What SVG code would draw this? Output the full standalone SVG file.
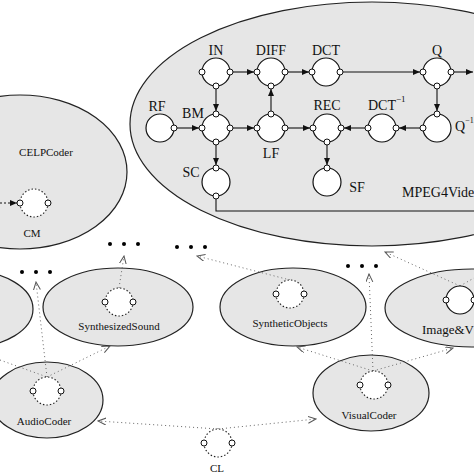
<svg xmlns="http://www.w3.org/2000/svg" width="474" height="474" viewBox="0 0 474 474">
<style>
.ell{fill:#e6e6e6;stroke:#222;stroke-width:1.2}
.nd{fill:#fff;stroke:#111;stroke-width:1.2}
.dn{fill:#fff;stroke:#222;stroke-width:1.1;stroke-dasharray:1.5 2}
.pt{fill:#fff;stroke:#111;stroke-width:1}
.dot{fill:#000}
.lb{font-family:"Liberation Serif",serif;font-size:14px;fill:#111}
.sm{font-family:"Liberation Serif",serif;font-size:11px;fill:#111}
.ln{stroke:#111;stroke-width:1.1;fill:none}
.dl{stroke:#666;stroke-width:1;stroke-dasharray:1 3;fill:none}
</style>
<defs>
<marker id="fa" markerUnits="userSpaceOnUse" markerWidth="8" markerHeight="6" refX="7" refY="3" orient="auto"><path d="M0,0 L7,3 L0,6 z" fill="#111"/></marker>
<marker id="oa" markerUnits="userSpaceOnUse" markerWidth="9" markerHeight="8" refX="8" refY="3.5" orient="auto"><path d="M0,0 L8,3.5 L0,7" fill="none" stroke="#555" stroke-width="1"/></marker>
</defs>
<rect width="474" height="474" fill="#fff"/>

<!-- containers -->
<g id="MPEG4Video">
<ellipse class="ell" cx="372" cy="124" rx="242" ry="122"/>
<text class="lb" x="402" y="197">MPEG4Vide</text>
</g>
<g id="CELPCoder">
<ellipse class="ell" cx="20" cy="172" rx="107" ry="77"/>
<text class="sm" x="46" y="156" text-anchor="middle">CELPCoder</text>
</g>
<g id="LeftNode"><ellipse class="ell" cx="-30" cy="309" rx="63" ry="38"/></g>
<g id="SynthesizedSound">
<ellipse class="ell" cx="118" cy="307" rx="75" ry="39"/>
<text class="sm" x="119" y="330" text-anchor="middle">SynthesizedSound</text>
</g>
<g id="SyntheticObjects">
<ellipse class="ell" cx="293" cy="307" rx="73" ry="39"/>
<text class="sm" x="290" y="327" text-anchor="middle">SyntheticObjects</text>
</g>
<g id="ImageVideo">
<ellipse class="ell" cx="472" cy="308" rx="87" ry="39"/>
<text class="lb" x="422" y="334" style="font-size:13px">Image&amp;V</text>
</g>
<g id="AudioCoder">
<ellipse class="ell" cx="47" cy="400" rx="56" ry="38"/>
<text class="sm" x="44" y="425" text-anchor="middle">AudioCoder</text>
</g>
<g id="VisualCoder">
<ellipse class="ell" cx="371" cy="393" rx="58" ry="38"/>
<text class="sm" x="369" y="419" text-anchor="middle">VisualCoder</text>
</g>

<!-- connectors -->
<g id="connectors">
<line class="ln" x1="233" y1="72" x2="254" y2="72" marker-end="url(#fa)"/>
<line class="ln" x1="288" y1="72" x2="309" y2="72" marker-end="url(#fa)"/>
<line class="ln" x1="343" y1="72" x2="420" y2="72" marker-end="url(#fa)"/>
<line class="ln" x1="454" y1="72" x2="473" y2="72" marker-end="url(#fa)"/>
<line class="ln" x1="216" y1="89" x2="216" y2="111" marker-end="url(#fa)"/>
<line class="ln" x1="271" y1="111" x2="271" y2="89" marker-end="url(#fa)"/>
<line class="ln" x1="437" y1="89" x2="437" y2="111" marker-end="url(#fa)"/>
<line class="ln" x1="177" y1="128" x2="199" y2="128" marker-end="url(#fa)"/>
<line class="ln" x1="233" y1="128" x2="254" y2="128" marker-end="url(#fa)"/>
<line class="ln" x1="288" y1="128" x2="310" y2="128" marker-end="url(#fa)"/>
<line class="ln" x1="365" y1="128" x2="344" y2="128" marker-end="url(#fa)"/>
<line class="ln" x1="420" y1="128" x2="399" y2="128" marker-end="url(#fa)"/>
<line class="ln" x1="216" y1="145" x2="216" y2="165" marker-end="url(#fa)"/>
<line class="ln" x1="327" y1="145" x2="327" y2="165" marker-end="url(#fa)"/>
<polyline class="ln" points="216,199 216,211 474,211"/>
<line class="ln" x1="0" y1="203" x2="17" y2="203" stroke-dasharray="2 2" marker-end="url(#fa)"/>

<line class="dl" x1="47" y1="377" x2="36" y2="282" marker-end="url(#oa)"/>
<line class="dl" x1="0" y1="360" x2="47" y2="377"/>
<line class="dl" x1="47" y1="377" x2="110" y2="346" marker-end="url(#oa)"/>
<line class="dl" x1="119" y1="288" x2="124" y2="256" marker-end="url(#oa)"/>
<line class="dl" x1="290" y1="280" x2="197" y2="256" marker-end="url(#oa)"/>
<line class="dl" x1="373" y1="371" x2="297" y2="347" marker-end="url(#oa)"/>
<line class="dl" x1="373" y1="371" x2="369" y2="274" marker-end="url(#oa)"/>
<line class="dl" x1="373" y1="371" x2="453" y2="348" marker-end="url(#oa)"/>
<line class="dl" x1="460" y1="286" x2="385" y2="252" marker-end="url(#oa)"/>
<line class="dl" x1="460" y1="286" x2="474" y2="278"/>
<line class="dl" x1="218" y1="429" x2="98" y2="421" marker-end="url(#oa)"/>
<line class="dl" x1="218" y1="429" x2="316" y2="419" marker-end="url(#oa)"/>
</g>

<!-- MPEG4 internal nodes -->
<g id="IN"><circle class="nd" cx="216" cy="72" r="14"/><circle class="pt" cx="202" cy="72" r="3"/><circle class="pt" cx="230" cy="72" r="3"/><circle class="pt" cx="216" cy="86" r="3"/><text class="lb" x="216" y="55" text-anchor="middle">IN</text></g>
<g id="DIFF"><circle class="nd" cx="271" cy="72" r="14"/><circle class="pt" cx="257" cy="72" r="3"/><circle class="pt" cx="285" cy="72" r="3"/><circle class="pt" cx="271" cy="86" r="3"/><text class="lb" x="271" y="55" text-anchor="middle">DIFF</text></g>
<g id="DCT"><circle class="nd" cx="326" cy="72" r="14"/><circle class="pt" cx="312" cy="72" r="3"/><circle class="pt" cx="340" cy="72" r="3"/><text class="lb" x="326" y="55" text-anchor="middle">DCT</text></g>
<g id="Q"><circle class="nd" cx="437" cy="72" r="14"/><circle class="pt" cx="423" cy="72" r="3"/><circle class="pt" cx="451" cy="72" r="3"/><circle class="pt" cx="437" cy="86" r="3"/><text class="lb" x="437" y="55" text-anchor="middle">Q</text></g>
<g id="RF"><circle class="nd" cx="160" cy="128" r="14"/><circle class="pt" cx="174" cy="128" r="3"/><text class="lb" x="157" y="111" text-anchor="middle">RF</text></g>
<g id="BM"><circle class="nd" cx="216" cy="128" r="14"/><circle class="pt" cx="216" cy="114" r="3"/><circle class="pt" cx="202" cy="128" r="3"/><circle class="pt" cx="230" cy="128" r="3"/><circle class="pt" cx="216" cy="142" r="3"/><text class="lb" x="193" y="118" text-anchor="middle">BM</text></g>
<g id="LF"><circle class="nd" cx="271" cy="128" r="14"/><circle class="pt" cx="271" cy="114" r="3"/><circle class="pt" cx="257" cy="128" r="3"/><circle class="pt" cx="285" cy="128" r="3"/><text class="lb" x="271" y="158" text-anchor="middle">LF</text></g>
<g id="REC"><circle class="nd" cx="327" cy="128" r="14"/><circle class="pt" cx="313" cy="128" r="3"/><circle class="pt" cx="341" cy="128" r="3"/><circle class="pt" cx="327" cy="142" r="3"/><text class="lb" x="327" y="110" text-anchor="middle">REC</text></g>
<g id="DCTinv"><circle class="nd" cx="382" cy="128" r="14"/><circle class="pt" cx="368" cy="128" r="3"/><circle class="pt" cx="396" cy="128" r="3"/><text class="lb" x="368" y="110">DCT<tspan dy="-8" style="font-size:9px">−1</tspan></text></g>
<g id="Qinv"><circle class="nd" cx="437" cy="128" r="14"/><circle class="pt" cx="437" cy="114" r="3"/><circle class="pt" cx="423" cy="128" r="3"/><text class="lb" x="455" y="131">Q<tspan dy="-8" style="font-size:8px">−1</tspan></text></g>
<g id="SC"><circle class="nd" cx="216" cy="182" r="14"/><circle class="pt" cx="216" cy="168" r="3"/><circle class="pt" cx="216" cy="196" r="3"/><text class="lb" x="191" y="177" text-anchor="middle">SC</text></g>
<g id="SF"><circle class="nd" cx="327" cy="182" r="14"/><circle class="pt" cx="327" cy="168" r="3"/><text class="lb" x="357" y="192" text-anchor="middle">SF</text></g>

<!-- lower nodes -->
<g id="CM"><circle class="dn" cx="34" cy="203" r="14"/><circle class="pt" cx="20" cy="203" r="3"/><circle class="pt" cx="48" cy="203" r="3"/><text class="sm" x="32" y="237" text-anchor="middle">CM</text></g>
<g id="SSnode"><circle class="dn" cx="119" cy="302" r="14"/><circle class="pt" cx="105" cy="302" r="3"/><circle class="pt" cx="133" cy="302" r="3"/></g>
<g id="SOnode"><circle class="dn" cx="290" cy="294" r="14"/><circle class="pt" cx="276" cy="294" r="3"/><circle class="pt" cx="304" cy="294" r="3"/></g>
<g id="IVnode"><circle class="nd" cx="460" cy="300" r="14"/><circle class="pt" cx="446" cy="300" r="3"/><circle class="pt" cx="474" cy="300" r="3"/></g>
<g id="ACnode"><circle class="dn" cx="47" cy="391" r="14"/><circle class="pt" cx="33" cy="391" r="3"/><circle class="pt" cx="61" cy="391" r="3"/></g>
<g id="VCnode"><circle class="dn" cx="374" cy="385" r="14"/><circle class="pt" cx="360" cy="385" r="3"/><circle class="pt" cx="388" cy="385" r="3"/></g>
<g id="CL"><circle class="dn" cx="218" cy="443" r="14"/><circle class="pt" cx="204" cy="443" r="3"/><circle class="pt" cx="232" cy="443" r="3"/><text class="sm" x="217" y="472" text-anchor="middle">CL</text></g>

<g id="dots">
<circle class="dot" cx="110" cy="244" r="2"/><circle class="dot" cx="124" cy="244" r="2"/><circle class="dot" cx="138" cy="244" r="2"/>
<circle class="dot" cx="177" cy="247" r="2"/><circle class="dot" cx="191" cy="247" r="2"/><circle class="dot" cx="205" cy="247" r="2"/>
<circle class="dot" cx="22" cy="272" r="2"/><circle class="dot" cx="36" cy="272" r="2"/><circle class="dot" cx="50" cy="272" r="2"/>
<circle class="dot" cx="348" cy="266" r="2"/><circle class="dot" cx="362" cy="266" r="2"/><circle class="dot" cx="376" cy="266" r="2"/>
</g>
</svg>
